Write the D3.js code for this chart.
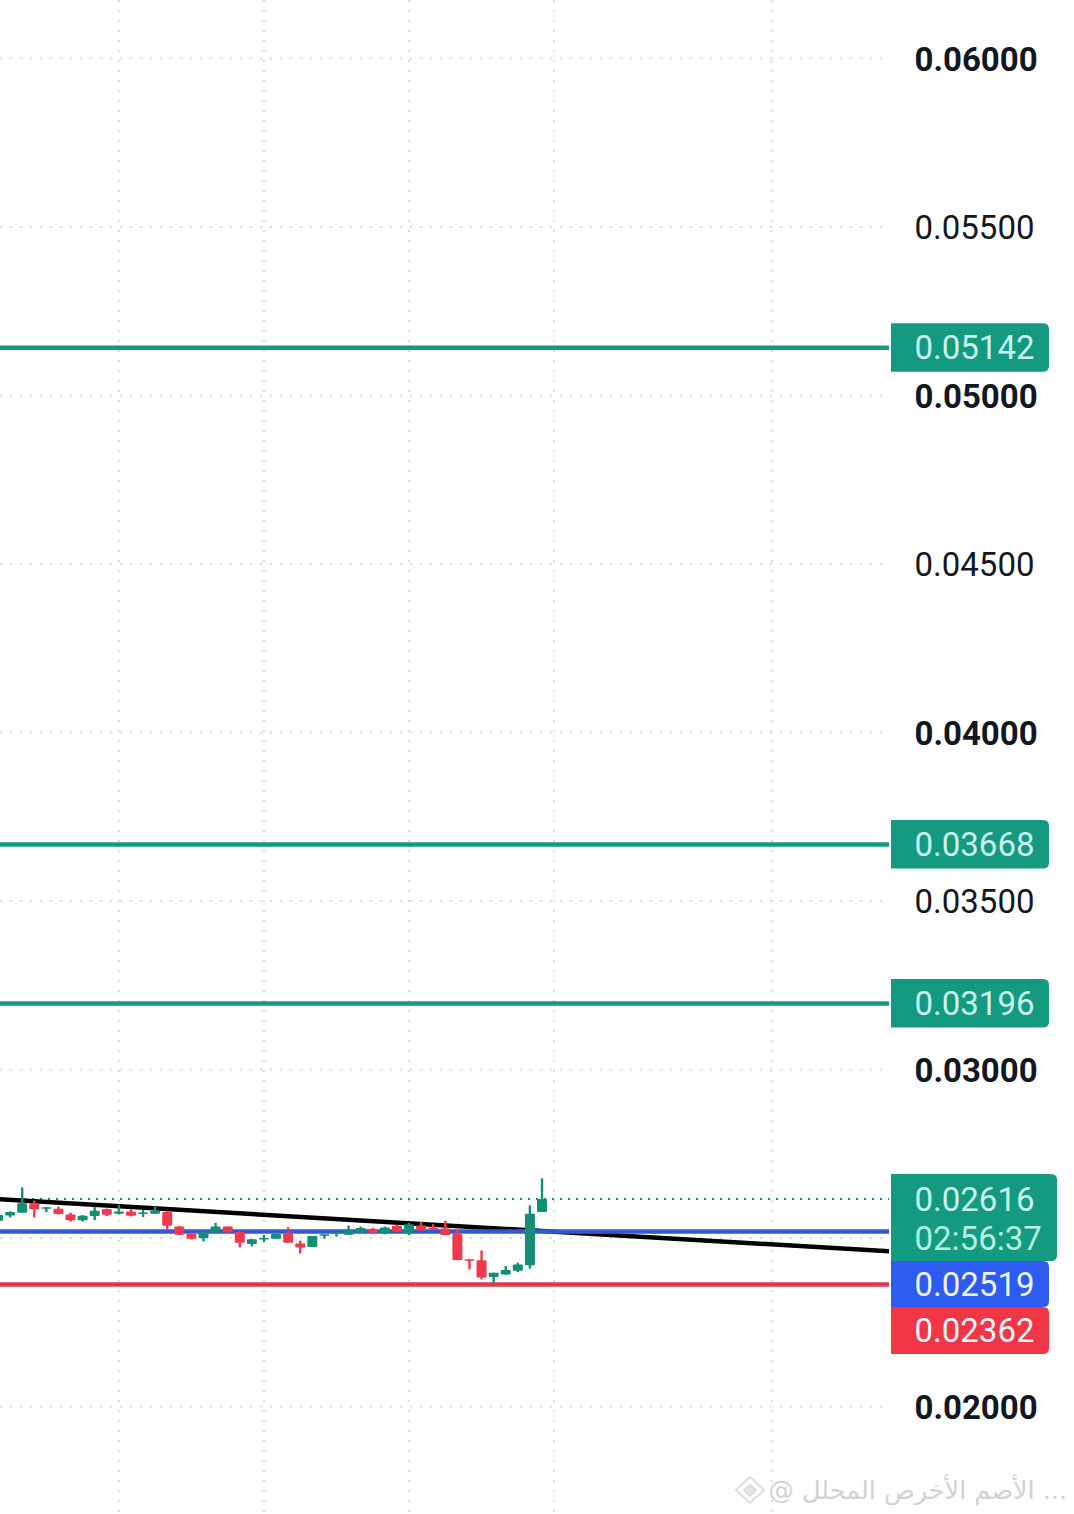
<!DOCTYPE html>
<html><head><meta charset="utf-8">
<script src="https://d3js.org/d3.v7.min.js"></script>
<style>html,body{margin:0;padding:0;background:#fff}svg{display:block}</style></head>
<body><svg id="c" width="1074" height="1514"></svg>
<script>
const opens=[.02551,.02567,.02575,.02603,.02587,.02587,.0257,.02553,.02565,.02585,.02572,.02579,.02573,.02572,.02577,.02534,.02512,.02499,.02517,.02534,.02518,.02482,.02497,.02498,.02514,.02484,.02473,.02508,.02513,.0251,.02516,.02526,.02514,.02536,.02513,.02537,.02531,.02528,.02512,.02437,.02434,.02384,.02392,.02403,.02419,.02577];
const highs=[.0257,.02579,.0265,.02611,.02591,.02593,.02575,.02568,.02593,.02587,.02599,.02585,.02583,.02593,.02581,.02536,.02514,.02522,.02545,.02534,.0252,.02497,.02509,.02512,.02532,.02492,.02506,.02511,.02517,.02537,.02534,.0253,.02534,.02539,.02545,.02547,.02541,.02551,.02524,.02437,.02463,.02397,.02417,.02427,.02597,.02677];
const lows=[.02548,.02561,.02575,.02561,.02577,.0257,.02549,.02549,.02553,.02565,.0257,.02564,.02562,.02572,.02526,.02509,.02496,.0249,.02516,.02516,.02472,.02475,.02488,.02498,.02486,.02454,.02473,.02498,.02504,.02509,.02514,.02514,.02511,.02518,.02508,.02522,.02524,.02508,.02434,.02407,.02377,.02365,.02391,.02399,.02409,.02577];
const closes=[.02568,.02577,.02603,.02585,.02591,.02571,.02553,.02566,.02581,.02569,.02579,.02566,.02576,.02581,.02536,.0251,.02498,.02516,.02534,.02517,.02486,.02496,.025,.02512,.02486,.02472,.02506,.02511,.02516,.02522,.0253,.02516,.02531,.02519,.02541,.02523,.02525,.02509,.02435,.02433,.02383,.02397,.02405,.02421,.02572,.02616];
const priceTicks=[.02,.03,.035,.04,.045,.05,.055,.06];
const boldTicks=[.02,.03,.04,.05,.06];
const timeGrid=[10,22,34,46,64];
const levelValues=[.05142,.03668,.03196,.02519,.02362];
const levelLabels=["0.05142","0.03668","0.03196","0.02519","0.02362"];
const levelColors=["#149a80","#149a80","#149a80","#2f5cf0","#f23645"];
const lineColors=["#149a80","#149a80","#149a80","#3558d8","#d93a50"];
const trendIdx=[0,74], trendVal=[.02615,.0246];
const lastPrice=.02616, countdown="02:56:37";
const watermark="... الأصم الأخرص المحلل @";

const W=1074,H=1514,plotR=889;
const y=d3.scaleLinear().domain([.02,.06]).range([1406.5,58.5]);
const x=d3.scaleLinear().domain([0,45]).range([-2,542]);
const up="#128f76",down="#ee3a4c";
const svg=d3.select("#c");
const font="Roboto, sans-serif";
svg.append("clipPath").attr("id","plot").append("rect").attr("x",0).attr("y",0).attr("width",plotR).attr("height",H);

// grid
svg.append("g").selectAll("line").data(timeGrid).join("line")
 .attr("x1",d=>x(d)).attr("x2",d=>x(d)).attr("y1",0).attr("y2",1512)
 .attr("stroke","#d9dbde").attr("stroke-width",2).attr("stroke-dasharray","2 8");
svg.append("g").selectAll("line").data([...priceTicks,.025]).join("line")
 .attr("x1",0).attr("x2",884).attr("y1",d=>y(d)).attr("y2",d=>y(d))
 .attr("stroke","#d9dbde").attr("stroke-width",2).attr("stroke-dasharray","2 8");

// last price dotted line
svg.append("line").attr("x1",0).attr("x2",plotR).attr("y1",y(lastPrice)).attr("y2",y(lastPrice))
 .attr("stroke",up).attr("stroke-width",2).attr("stroke-dasharray","2 6");

// trend
svg.append("path").datum(trendIdx.map((t,i)=>[t,trendVal[i]]))
 .attr("clip-path","url(#plot)")
 .attr("d",d3.line().x(d=>x(d[0])).y(d=>y(d[1]))).attr("stroke","#000").attr("stroke-width",4.5).attr("fill","none");

// level lines
svg.append("g").selectAll("line").data(levelValues).join("line")
 .attr("x1",0).attr("x2",plotR).attr("y1",d=>y(d)).attr("y2",d=>y(d))
 .attr("stroke",(d,i)=>lineColors[i]).attr("stroke-width",4.5);

// candles
const cd=opens.map((o,i)=>({i,o,h:highs[i],l:lows[i],c:closes[i]}));
const g=svg.append("g").selectAll("g").data(cd).join("g");
g.append("line").attr("x1",d=>x(d.i)).attr("x2",d=>x(d.i)).attr("y1",d=>y(d.h)).attr("y2",d=>y(d.l))
 .attr("stroke",d=>d.c>=d.o?up:down).attr("stroke-width",2.4);
g.append("rect").attr("x",d=>x(d.i)-5).attr("width",10)
 .attr("y",d=>y(Math.max(d.o,d.c))).attr("height",d=>Math.max(1.5,Math.abs(y(d.o)-y(d.c))))
 .attr("rx",1).attr("fill",d=>d.c>=d.o?up:down);

// price axis
const axis=d3.axisRight(y).tickValues(priceTicks).tickSize(0).tickPadding(0).tickFormat(d3.format(".5f"));
const ax=svg.append("g").attr("transform","translate(914.5,0)").call(axis);
ax.select(".domain").remove();
ax.selectAll("text").attr("x",0).attr("dy","0.35em").attr("fill","#131722")
 .style("font-family",font).style("font-size","33px")
 .style("font-weight",d=>boldTicks.includes(d)?700:400);

// badges
function badge(top,bot,right,fill){
 const r=6,l=891;
 svg.append("path").attr("fill",fill)
  .attr("d",`M${l},${top}H${right-r}Q${right},${top} ${right},${top+r}V${bot-r}Q${right},${bot} ${right-r},${bot}H${l}Z`);
}
function label(t,yy,fill){
 svg.append("text").attr("x",914.5).attr("y",yy).attr("dy","0.35em").attr("fill",fill)
  .style("font-family",font).style("font-size","33px").text(t);
}
levelValues.forEach((v,i)=>{
 const top=i<3?y(v)-24.5:(i===3?1261:1307), bot=i<3?y(v)+24:(i===3?1307:1354);
 badge(top,bot,1049,levelColors[i]);
 label(levelLabels[i],(top+bot)/2,i<3?"#c9f5ea":"#eef2ff");
});
badge(1174,1261,1057,"#149a80");
label(d3.format(".5f")(lastPrice),1199,"#c9f5ea");
label(countdown,1238,"#b5f0e0");

// watermark
svg.append("text").attr("x",1067).attr("y",1499).attr("text-anchor","start").attr("direction","rtl")
 .attr("fill","#d2d2d2").style("font-family","'DejaVu Sans',sans-serif").style("font-size","25.5px").text(watermark);
const wm=svg.append("g").attr("transform","translate(750,1490)").attr("fill","none").attr("stroke","#dcdcdc").attr("stroke-width",2);
wm.append("path").attr("d","M0,-13L14,0L0,13L-14,0Z");
wm.append("path").attr("d","M0,-5L6,0L0,6L-6,0Z").attr("fill","#e4e4e4");
</script></body></html>
